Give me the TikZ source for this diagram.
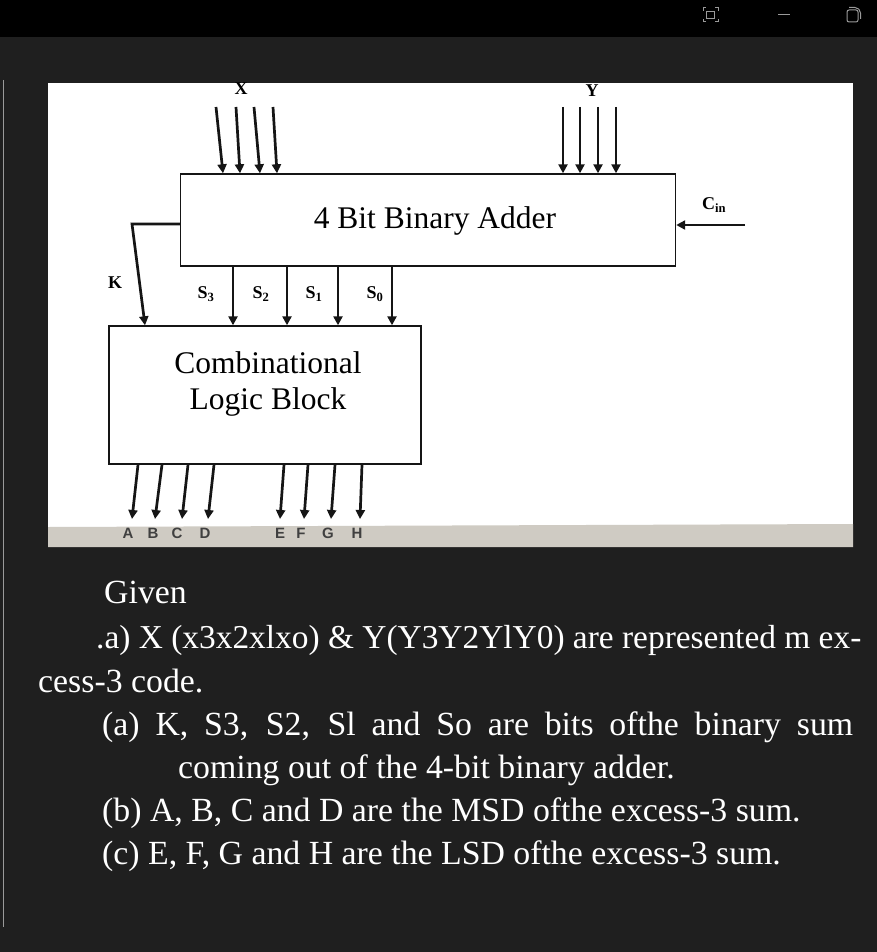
\documentclass[tikz,border=0pt]{standalone}
\usepackage{fontspec}
\setmainfont{Liberation Serif}
\newfontfamily\handfont{Liberation Sans}
\usetikzlibrary{arrows.meta,positioning}

\definecolor{screenbg}{HTML}{1F1F1F}
\definecolor{inkline}{HTML}{151515}
\definecolor{paperstrip}{HTML}{CFCBC3}
\definecolor{iconcol}{HTML}{9A9A9A}

\tikzset{
  block/.style={draw=inkline, line width=1.4pt, fill=white, inner sep=0pt},
  blocktext/.style={inner sep=0pt, align=center, font=\fontsize{31.5}{36}\selectfont},
  sig/.style={draw=inkline, line width=2.7pt, -{Triangle[length=9pt,width=9pt]}},
  lbl/.style={inner sep=0pt, font=\bfseries\fontsize{18}{18}\selectfont},
  pinlbl/.style={inner sep=0pt, text=black!75, font=\handfont\bfseries\fontsize{15}{15}\selectfont},
  note/.style={anchor=base west, inner sep=0pt, text=white, font=\fontsize{33.8}{36}\selectfont},
}

\begin{document}
\begin{tikzpicture}[x=1pt,y=-1pt]
\useasboundingbox (0,0) rectangle (877,952);
\fill[screenbg] (0,0) rectangle (877,952);
\fill[black] (0,0) rectangle (877,37);
% window buttons
\draw[iconcol, line width=1pt] (703,11) |- (706,8) (715,8) -| (718,11) (718,19) |- (715,22) (706,22) -| (703,19);
\draw[iconcol, line width=1pt] (706.5,11.5) rectangle (714.5,18.5);
\draw[iconcol, line width=1pt] (778,14.5) -- (790,14.5);
\draw[iconcol, line width=1pt, rounded corners=2pt] (847,10) rectangle (858,22);
\draw[iconcol, line width=1pt, rounded corners=2pt] (849,7.5) -- (857,7.5) -- (860.5,11) -- (860.5,19);
\draw[iconcol, line width=0.8pt] (3,80) -- (3,927);

% the photo
\fill[white] (48,83) rectangle (853,547);
\fill[paperstrip] (48,527) -- (853,524) -- (853,547) -- (48,547) -- cycle;

\node[block, minimum width=495pt, minimum height=92pt] (adder) at (428,220) {};
\node[blocktext] (addertext) at ([xshift=7pt,yshift=-1pt]adder.center) {4 Bit Binary Adder};
\node[block, minimum width=312pt, minimum height=138pt] (clb) at (265,395) {};
\node[blocktext] (clbtext) at ([xshift=3pt,yshift=11pt]clb.center) {Combinational\\Logic Block};

\node[lbl] (xlbl) at (241,89) {X};
\node[lbl] (ylbl) at (592,91) {Y};
\node[lbl] (cinlbl) at (714,205) {C\textsubscript{in}};
\node[lbl] (klbl) at (115,283) {K};

% X and Y inputs
\foreach \i/\xt/\xb in {0/216/223, 1/236/240, 2/254/260, 3/273/277} {
  \coordinate (xtop\i) at (\xt,107);
  \coordinate (xbot\i) at (\xb,0);
  \draw[sig] (xtop\i) -- (adder.north -| xbot\i);
}
\foreach \i/\xt in {0/563, 1/580, 2/598, 3/616} {
  \coordinate (ytop\i) at (\xt,107);
  \draw[sig] (ytop\i) -- (adder.north -| ytop\i);
}
% carry in
\coordinate (cinsrc) at (745,225);
\draw[sig] (cinsrc) -- (adder.east |- cinsrc);

% K
\coordinate (kbend) at (132,224);
\coordinate (kfoot) at (145,0);
\draw[sig] (adder.west |- kbend) -- (kbend) -- (clb.north -| kfoot);

% sum bits
\foreach \i/\xs/\xl in {3/233/206, 2/287/261, 1/338/314, 0/392/375} {
  \coordinate (s\i) at (\xs,0);
  \node[lbl] (slbl\i) at (\xl,294) {S\textsubscript{\i}};
  \draw[sig] (adder.south -| s\i) -- (clb.north -| s\i);
}

% outputs
\foreach \n/\xt/\xb/\xl in {A/138/132/128, B/162/155/153, C/188/182/177, D/214/208/205,
                             E/284/280/280, F/308/304/301, G/335/331/328, H/362/360/357} {
  \coordinate (out\n) at (\xt,0);
  \coordinate (tip\n) at (\xb,519);
  \node[pinlbl] (pin\n) at (\xl,533) {\n};
  \draw[sig] (clb.south -| out\n) -- (tip\n);
}

% the question text
\node[note] (given) at (104,603) {Given};
\node[note, font=\fontsize{33.4}{36}\selectfont] (qa) at (96,648) {.a) X (x3x2xlxo) \& Y(Y3Y2YlY0) are represented m ex-};
\node[note] (qa2) at (38,692) {cess-3 code.};
\node[note] (pa) at (102,735) {\makebox[751pt][s]{(a) K, S3, S2, Sl and So are bits ofthe binary sum}};
\node[note] (pa2) at (178,778) {coming out of the 4-bit binary adder.};
\node[note] (pb) at (102,821) {(b) A, B, C and D are the MSD ofthe excess-3 sum.};
\node[note] (pc) at (102,864) {(c) E, F, G and H are the LSD ofthe excess-3 sum.};
\end{tikzpicture}
\end{document}
